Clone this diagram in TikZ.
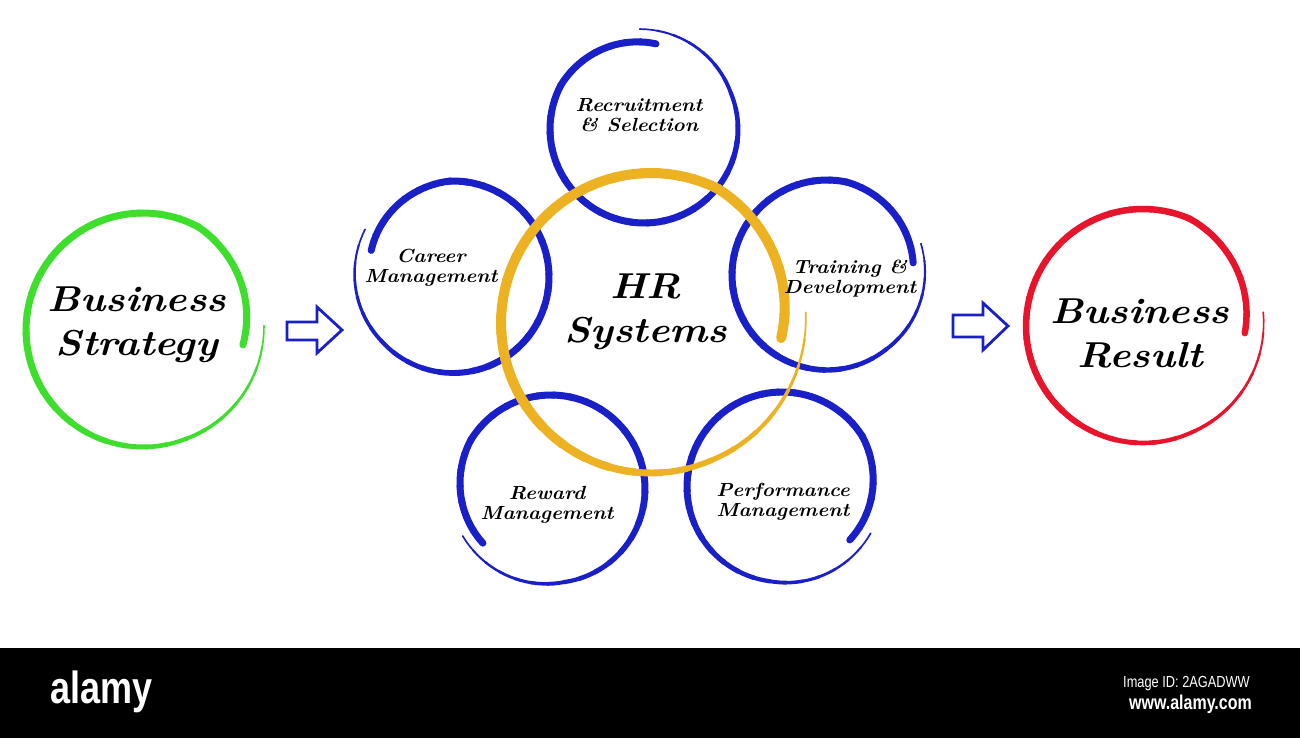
\documentclass[tikz,border=0pt]{standalone}
\usepackage{graphicx}
\usepackage{fontspec}
\newfontfamily\alamyfont[FakeStretch=0.8]{Liberation Sans}
\definecolor{ringblue}{RGB}{26,32,200}
\definecolor{ringyellow}{RGB}{236,178,34}
\definecolor{ringgreen}{RGB}{62,222,44}
\definecolor{ringred}{RGB}{232,20,44}
\newcommand{\stretchx}[1]{\scalebox{1.12}[1]{#1}}
\newcommand{\stretchs}[1]{\scalebox{1.08}[1]{#1}}
% #1 cx, #2 cy, #3 R, #4 r start, #5 r end, #6 start angle, #7 direction, #8 colour, #9 max width
\newcommand{\brushring}[9]{%
  \foreach \i in {0,...,36}{%
    \pgfmathsetmacro\ta{\i*10}%
    \pgfmathsetmacro\tb{\i*10+10.5}%
    \pgfmathsetmacro\tm{\i*10+5}%
    \pgfmathsetmacro\w{\tm<220 ? #9 : #9-(#9-1.5)*(\tm-220)/150}%
    \draw[draw=#8,line width=\w pt,line cap=round,line join=round]
      plot[domain=\ta:\tb,samples=4,variable=\t]
      ({#1+(#3-(#3-#4)*max(0,1-\t/70)+(#5-#3)*max(0,(\t-300)/70))*cos(#6+(#7)*\t)},
       {#2+(#3-(#3-#4)*max(0,1-\t/70)+(#5-#3)*max(0,(\t-300)/70))*sin(#6+(#7)*\t)});
  }}
\tikzset{
  biglabel/.style={font=\fontsize{36}{44}\selectfont\bfseries\itshape,align=center,inner sep=0pt,text=black},
  smalllabel/.style={font=\fontsize{19}{20}\selectfont\bfseries\itshape,align=center,inner sep=0pt,text=black},
  blockarrow/.style={draw=ringblue,fill=white,line width=2.8pt,line join=miter},
}
\begin{document}
\begin{tikzpicture}[x=1pt,y=-1pt]
\useasboundingbox (0,0) rectangle (1300,738);
\fill[white] (0,0) rectangle (1300,738);

% rings
\brushring{143}{330}{117}{101}{121}{8.5}{-1}{ringgreen}{7}
\brushring{1143}{326}{117}{102}{121}{4}{-1}{ringred}{6.5}
\brushring{644}{129}{94}{86}{100}{-82}{-1}{ringblue}{7}
\brushring{453}{277}{96}{86}{100}{198}{1}{ringblue}{7}
\brushring{827}{275}{95}{87}{99}{-8}{-1}{ringblue}{7}
\brushring{551}{489}{94}{87}{100}{141.5}{1}{ringblue}{7}
\brushring{782}{487}{95}{86}{100}{38}{-1}{ringblue}{7}
\brushring{651}{323}{150}{131}{155}{6.6}{-1}{ringyellow}{10}

% labels
\node[biglabel] (strategy) at (137,325) {\stretchx{Business}\\\stretchx{Strategy}};
\node[biglabel] (hr) at (646,312) {\stretchx{HR}\\\stretchx{Systems}};
\node[biglabel] (result) at (1140,333) {\stretchx{Business}\\\stretchx{Result}};
\node[smalllabel] (recruit) at (639,115) {\stretchs{Recruitment}\\\stretchs{\& Selection}};
\node[smalllabel] (career) at (431,268) {\stretchs{Career}\\\stretchs{Management}};
\node[smalllabel] (training) at (850,279) {\stretchs{Training \&}\\\stretchs{Development}};
\node[smalllabel] (reward) at (547,505) {\stretchs{Reward}\\\stretchs{Management}};
\node[smalllabel] (perf) at (783,502) {\stretchs{Performance}\\\stretchs{Management}};

% block arrows
\draw[blockarrow] (287,322) -- (317,322) -- (317,307) -- (342,330) -- (317,353) -- (317,340) -- (287,340) -- cycle;
\draw[blockarrow] (953,315) -- (983,315) -- (983,303) -- (1008,326) -- (983,350) -- (983,337) -- (953,337) -- cycle;

% watermark band
\fill[black] (0,648) rectangle (1300,738);
\node[anchor=base west,inner sep=0pt,text=white,font=\alamyfont\bfseries\fontsize{45}{45}\selectfont] (logo) at (50,703) {alamy};
\node[anchor=base east,inner sep=0pt,text=white,font=\alamyfont\fontsize{16}{16}\selectfont] (imgid) at (1250,687) {Image ID: 2AGADWW};
\node[anchor=base east,inner sep=0pt,text=white,font=\alamyfont\bfseries\fontsize{20}{20}\selectfont] (site) at (1252,709) {www.alamy.com};
\end{tikzpicture}
\end{document}
